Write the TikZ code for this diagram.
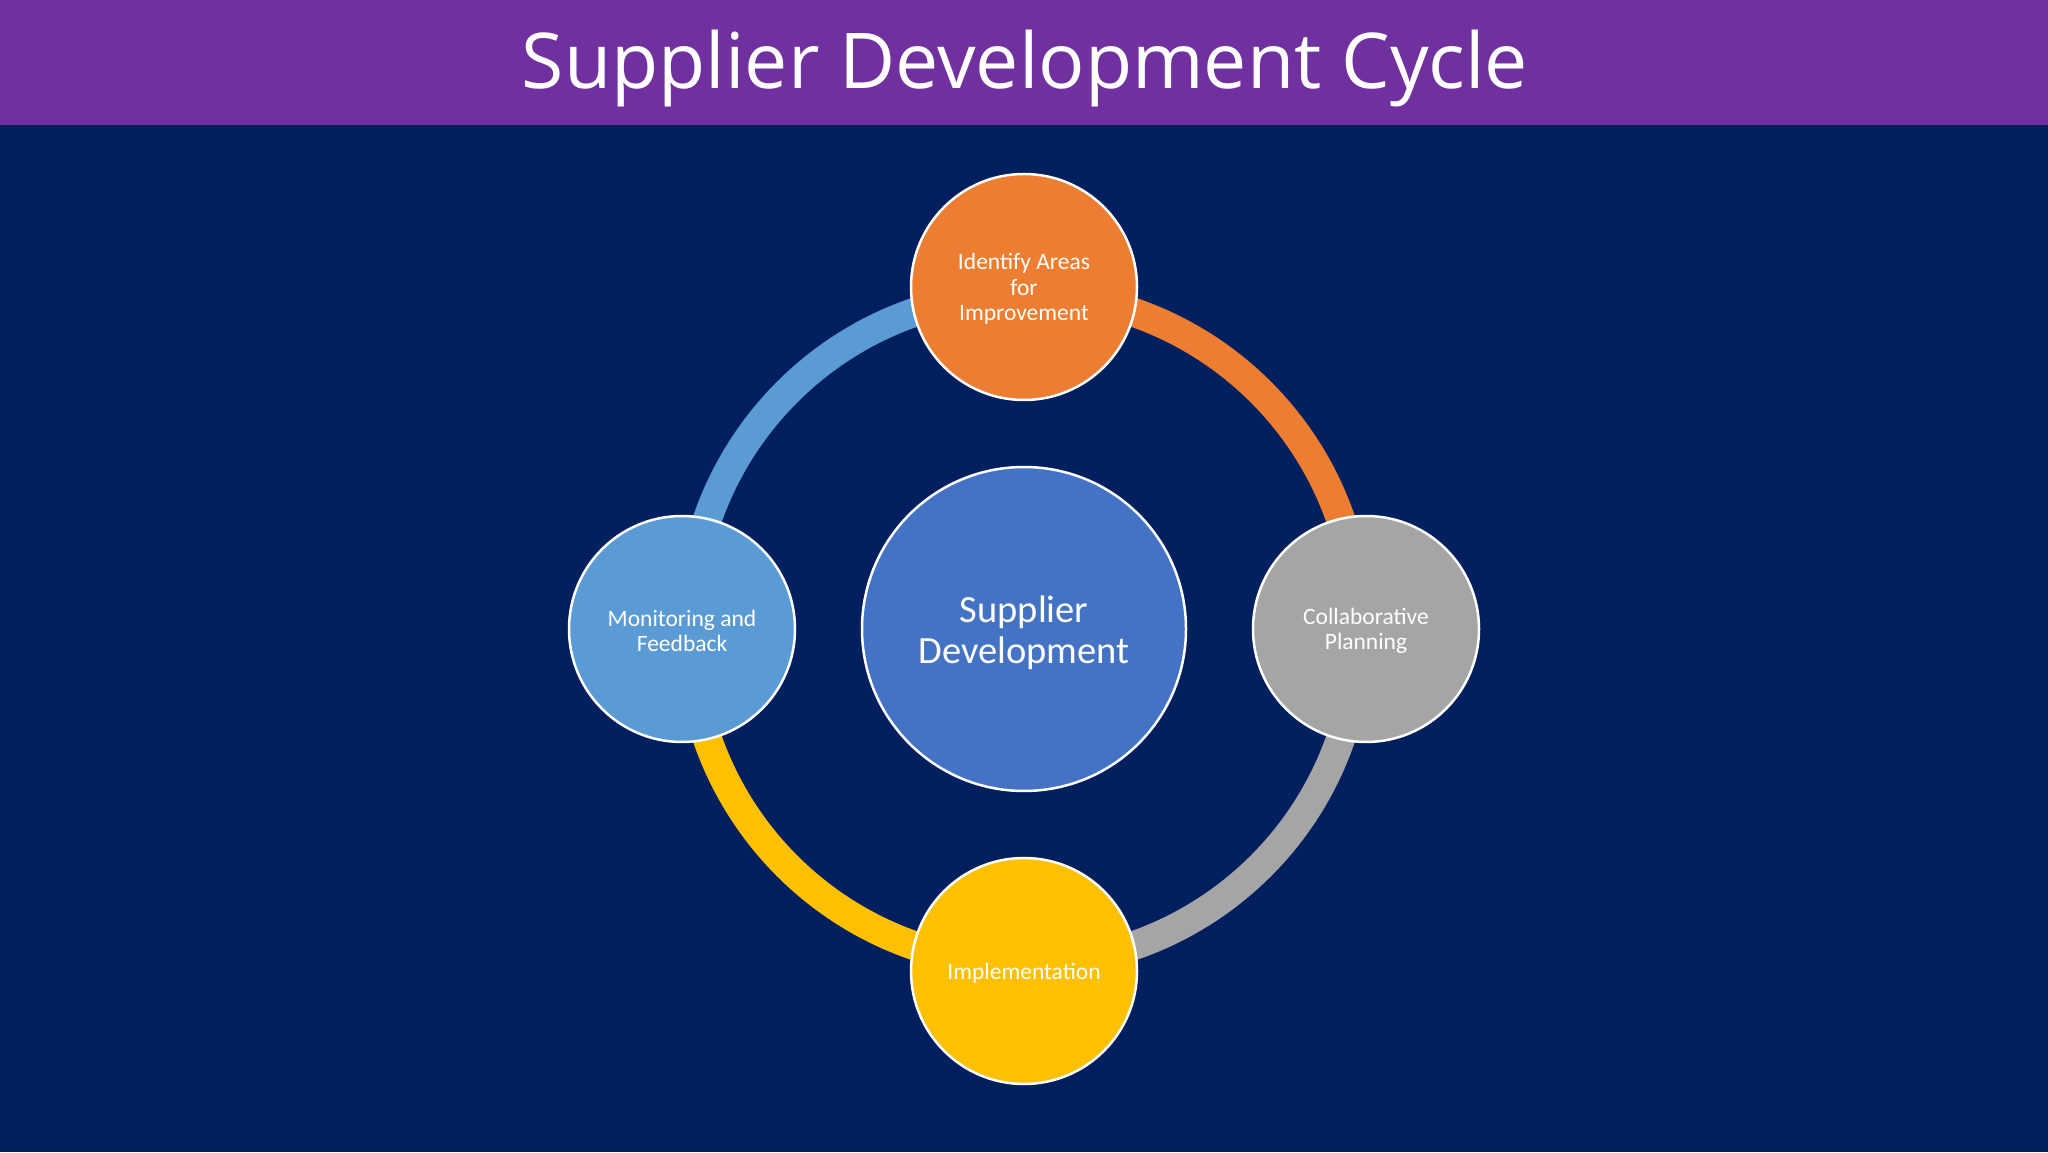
\documentclass[tikz,border=0pt]{standalone}
\usepackage{fontspec}
\usetikzlibrary{backgrounds}
\setmainfont{Carlito}
\newfontfamily\titlefont{Open Sans}
\definecolor{bgblue}{HTML}{001F5F}
\definecolor{titlepurple}{HTML}{7030A0}
\definecolor{cOrange}{HTML}{ED7D31}
\definecolor{cGray}{HTML}{A5A5A5}
\definecolor{cYellow}{HTML}{FFC000}
\definecolor{cLight}{HTML}{5B9BD5}
\definecolor{cCenter}{HTML}{4472C4}
\tikzset{
  sat/.style={circle, draw=white, line width=2.5pt, minimum size=226pt, inner sep=0pt},
  sattext/.style={text=white, align=center, inner sep=0pt, font=\fontsize{23.5}{25.5}\selectfont},
  hub/.style={circle, draw=white, line width=2.5pt, minimum size=324pt, inner sep=0pt, fill=cCenter},
  hubtext/.style={text=white, align=center, inner sep=0pt, font=\fontsize{38.5}{41}\selectfont},
  ringseg/.style={line width=29pt}
}
\begin{document}
\begin{tikzpicture}[x=1pt,y=1pt]
\useasboundingbox (0,0) rectangle (2048,1152);

\node[anchor=base, text=white, inner sep=0pt, font=\titlefont\fontsize{77}{90}\selectfont] (title) at (1025,1063) {Supplier Development Cycle};

\node[hub] (hub) at (1024,523) {};
\node[hubtext] (hubt) at ([yshift=-4pt]hub.center) {Supplier\\Development};
\node[sat, fill=cOrange] (top) at (1024,865) {};
\node[sattext] (topt) at ([yshift=-2pt]top.center) {Identify Areas\\for\\Improvement};
\node[sat, fill=cGray] (right) at (1366,523) {};
\node[sattext] (rightt) at ([yshift=-2pt]right.center) {Collaborative\\Planning};
\node[sat, fill=cYellow] (bottom) at (1024,181) {};
\node[sattext] (bottomt) at ([yshift=-2pt]bottom.center) {Implementation};
\node[sat, fill=cLight] (left) at (682,523) {};
\node[sattext] (leftt) at ([yshift=-2pt]left.center) {Monitoring and\\Feedback};

\begin{scope}[on background layer]
\fill[bgblue] (0,0) rectangle (2048,1152);
\fill[titlepurple] (0,1027) rectangle (2048,1152);
\draw[ringseg, cOrange] (hub.center) ++(90:335) arc[start angle=90, end angle=0, radius=335];
\draw[ringseg, cGray] (hub.center) ++(0:335) arc[start angle=0, end angle=-90, radius=335];
\draw[ringseg, cYellow] (hub.center) ++(-90:335) arc[start angle=-90, end angle=-180, radius=335];
\draw[ringseg, cLight] (hub.center) ++(180:335) arc[start angle=180, end angle=90, radius=335];
\end{scope}
\end{tikzpicture}
\end{document}
